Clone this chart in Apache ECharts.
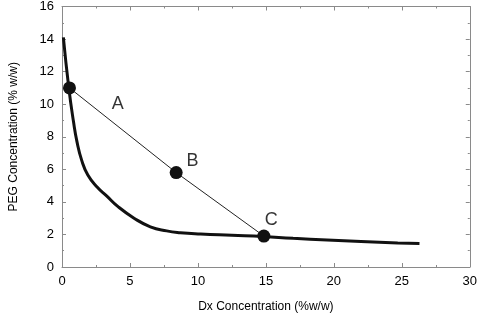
<!DOCTYPE html>
<html>
<head>
<meta charset="utf-8">
<script src="https://cdn.jsdelivr.net/npm/echarts@6/dist/echarts.min.js"></script>
<style>
  html, body { margin: 0; padding: 0; background: #fff; }
  #chart { width: 480px; height: 318px; }
</style>
</head>
<body>
<div id="chart"></div>
<script>
// binodal curve (Dx %w/w, PEG %w/w)
const binodalDx  = [0.1, 0.5, 0.85, 1.1, 1.45, 1.9, 2.6, 3.3, 4.1, 5.3, 6.5, 7.7, 8.7, 10.2, 12.5, 14.8, 17.0, 19.5, 22.0, 24.7, 26.3]
const binodalPeg = [14.1, 11.0, 8.9, 7.7, 6.55, 5.65, 4.9, 4.35, 3.72, 3.0, 2.47, 2.22, 2.11, 2.03, 1.95, 1.87, 1.76, 1.66, 1.57, 1.48, 1.44]

// tie line points
const tieDx  = [0.55, 8.4, 14.85]
const tiePeg = [11.0, 5.8, 1.9]

// point labels and where they sit
const pointNames = ['A', 'B', 'C']
const labelDx  = [4.1, 9.6, 15.4]
const labelPeg = [10.0, 6.5, 2.9]

const xTitle = 'Dx Concentration (%w/w)'
const yTitle = 'PEG Concentration (% w/w)'

const FONT = 'Liberation Sans'
const AXIS_GRAY = '#8a8a8a'

const zip = (a, b) => a.map((v, i) => [v, b[i]])

const chart = echarts.init(document.getElementById('chart'), null, { renderer: 'canvas' })

// shared axis look: gray frame, inward ticks
const frame = {
    axisLine: { show: true, onZero: false, lineStyle: { color: AXIS_GRAY, width: 1 } },
    axisTick: { show: true, inside: true, length: 4, lineStyle: { color: AXIS_GRAY } },
    minorTick: { show: true, splitNumber: 2, length: 2, lineStyle: { color: AXIS_GRAY } },
    splitLine: { show: false },
}

chart.setOption({
    animation: false,
    grid: { left: 60, right: 7, top: 4, bottom: 51 },
    textStyle: { fontFamily: FONT },
    xAxis: [
        {
            type: 'value', min: 0, max: 30, interval: 5, position: 'bottom',
            ...frame,
            axisLabel: { color: '#000', fontSize: 13, fontFamily: FONT, margin: 8 },
            name: xTitle, nameLocation: 'middle', nameGap: 34,
            nameTextStyle: { color: '#000', fontSize: 12, fontFamily: FONT },
        },
        {
            type: 'value', min: 0, max: 30, interval: 5, position: 'top',
            ...frame,
            axisLabel: { show: false },
        },
    ],
    yAxis: [
        {
            type: 'value', min: 0, max: 16, interval: 2, position: 'left',
            ...frame,
            axisLabel: { color: '#000', fontSize: 13, fontFamily: FONT, margin: 8 },
            name: yTitle, nameLocation: 'middle', nameGap: 42,
            nameTextStyle: { color: '#000', fontSize: 12, fontFamily: FONT },
        },
        {
            type: 'value', min: 0, max: 16, interval: 2, position: 'right',
            ...frame,
            axisLabel: { show: false },
        },
    ],
    series: [
        {
            type: 'line',
            data: zip(binodalDx, binodalPeg),
            smooth: 0.5,
            showSymbol: false,
            lineStyle: { color: '#111', width: 3 },
            z: 3,
        },
        {
            type: 'line',
            data: zip(tieDx, tiePeg),
            showSymbol: false,
            lineStyle: { color: '#222', width: 1 },
            z: 2,
        },
        {
            type: 'scatter',
            data: zip(tieDx, tiePeg),
            symbolSize: 13,
            itemStyle: { color: '#111', opacity: 1 },
            z: 4,
        },
        {
            type: 'scatter',
            data: zip(labelDx, labelPeg).map((p, i) => ({ value: p, name: pointNames[i] })),
            symbolSize: 1,
            itemStyle: { color: 'rgba(0,0,0,0)' },
            label: {
                show: true, position: 'inside', formatter: (p) => p.name,
                color: '#000', fontSize: 18, fontFamily: FONT,
            },
            z: 5,
        },
    ],
})
</script>
</body>
</html>
